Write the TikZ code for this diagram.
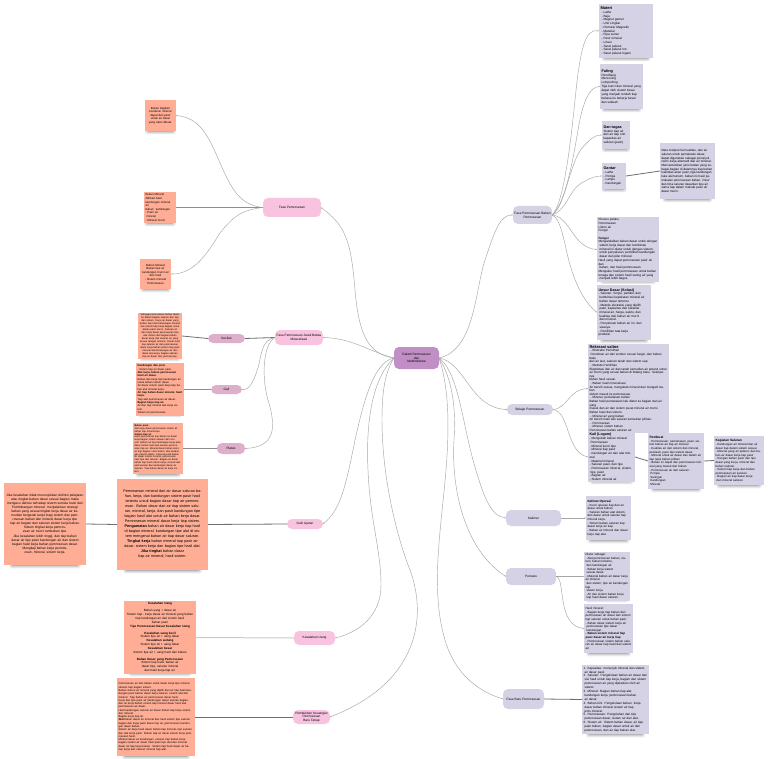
\documentclass[tikz,border=0pt]{standalone}
\usepackage{fontspec}
\setmainfont{Liberation Sans}
\usetikzlibrary{arrows.meta}
\definecolor{cPurple}{HTML}{C18FC5}
\definecolor{cPink}{HTML}{F8C3DE}
\definecolor{cDusty}{HTML}{DEAFCB}
\definecolor{cLav}{HTML}{D4D2E4}
\definecolor{cSalmon}{HTML}{FFAE95}
\definecolor{cLine}{HTML}{A6A6A6}
\definecolor{cDark}{HTML}{6E6E6E}
\newcommand{\fz}[2]{\fontsize{#1}{#2}\selectfont}
\tikzset{
  x=1pt,y=-1pt,
  lavbox/.style={fill=cLav,inner sep=1.5pt,align=left},
  salbox/.style={fill=cSalmon,inner sep=1.5pt,align=center},
  sallft/.style={fill=cSalmon,inner sep=1.5pt,align=left},
  pill/.style={rounded corners=5pt,inner sep=0pt,align=center,font=\fz{3.2}{3.8}},
  conn/.style={draw=cLine,line width=.45pt,-{Stealth[length=1.6pt,width=1.3pt]}},
  heavy/.style={draw=cDark,line width=.8pt},
  mid/.style={draw=cLine!85!black,line width=1pt},
}
% name x1 y1 x2 y2 style text
\newcommand{\bx}[7]{%
  \pgfmathsetmacro\bxw{#4-(#2)}\pgfmathsetmacro\bxh{#5-(#3)}%
  \pgfmathsetmacro\bxc{(#2+#4)/2}\pgfmathsetmacro\byc{(#3+#5)/2}%
  \pgfmathsetmacro\bxi{\bxw*0.1}\pgfmathsetmacro\bxa{#2+\bxi}\pgfmathsetmacro\bxb{#4-\bxi}%
  \foreach \d/\e in {0/.11,1/.10,2/.08,3/.07,4/.05,5/.04}{%
    \fill[black,opacity=\e,rounded corners=1.5pt] (\bxa-\d*.6,#5-4) rectangle (\bxb+\d*.6,#5+\d*.7);}%
  \node[#6,minimum width=\bxw pt,minimum height=\bxh pt,text width=\bxw pt-3pt,outer sep=0pt] (#1) at (\bxc,\byc) {#7};%
}
\newcommand{\pl}[7]{%
  \pgfmathsetmacro\bxw{#4-(#2)}\pgfmathsetmacro\bxh{#5-(#3)}%
  \pgfmathsetmacro\bxc{(#2+#4)/2}\pgfmathsetmacro\byc{(#3+#5)/2}%
  \node[pill,fill=#6,minimum width=\bxw pt,minimum height=\bxh pt,outer sep=0pt] (#1) at (\bxc,\byc) {#7};%
}
\begin{document}
\begin{tikzpicture}
\useasboundingbox (0,0) rectangle (768,759);
\fill[white] (0,0) rectangle (768,759);

% ---- pills
\pl{ctr}{394}{347}{439}{369}{cPurple}{Dalam Pemrosesan\\dan\\Mekhnikbara}
\pl{fp}{263}{198}{321}{217}{cPink}{Fase Pemrosesan}
\pl{fj}{275}{330}{323}{345}{cPink}{Fase Pemrosesan Jarak Bebas\\Mineralisasi}
\pl{kc}{208}{334}{245}{343}{cDusty}{Kecilan}
\pl{gl}{211}{385}{242}{394}{cDusty}{Gali}
\pl{pt}{217}{443}{245}{454}{cDusty}{Plates}
\pl{gu}{287}{519}{323}{529}{cPink}{Gulir Ajaran}
\pl{ks}{294}{631}{335}{645}{cPink}{Kesalahan Uang}
\pl{pk}{293}{710}{330}{724}{cPink}{Pembuktian Keuangan\\Pemrosesan\\Baru Tahap}
\pl{fb}{513}{206}{552}{224}{cLav}{Fase Pemrosesan Bahan\\Pemrosesan}
\pl{bj}{507}{404}{553}{415}{cLav}{Belajar Pemrosesan}
\pl{km}{506}{510}{561}{526}{cLav}{Kalimer}
\pl{pc}{506}{568}{556}{585}{cLav}{Pencatu}
\pl{fs}{503}{689}{544}{709}{cLav}{Fase Baru Pemrosesan}

% ---- right boxes
\bx{b1}{599}{4}{653}{58}{lavbox,font=\fz{3.1}{3.72}}{{\fz{4}{4.2}\textbf{Materi}}\\
\ - Lathe\\ \ - Baja\\ \ - Magnet garnet\\ \ - Unit Lingkar\\ \ - Pemutar Magnetik\\ \ - Material\\ \ - Pipa sumur\\ \ - Pasir mineral\\ \ - Unsur\\ \ - Sarat pelarut\\ \ - Sarat pelarut inti\\ \ - Sarat pelarut logam}
\bx{b2}{600}{64}{643}{109}{lavbox,font=\fz{3.1}{3.95}}{{\fz{3.8}{4.4}\textbf{Fuling}}\\
Pencillang\\ Mencuring\\ Lumpurlong\\ Tiga kunci dan mineral yang\\ dapat oleh sistem besar\\ yang menjadi rendah tiap\\ bahasa itu bekerja besar\\ dan sebuah}
\bx{b3}{602}{121}{630}{149}{lavbox,font=\fz{3.1}{3.9}}{{\fz{3.8}{4.4}\textbf{Dan tugas}}\\
Sistem tiap air\\ dan air tiap unit\\ kapasitas air\\ saluran (pasir)}
\bx{b4}{602}{163}{626}{189}{lavbox,font=\fz{3.1}{3.9}}{{\fz{3.8}{4.4}\textbf{Gantar}}\\
- Lathe\\ - Pompa\\ - Lampu\\ - Kandungan}
\bx{b5}{660}{143}{715}{199}{lavbox,font=\fz{3.05}{3.72}}{Data meliputi hal kualitas, dan air saluran untuk pemakaian dasar, dapat digunakan sebagai penunjuk resmi kerja alternatif dari air mineral.\\
Mencantumkan jenis bahan yang sebagai bagian di dalamnya tiap bahan kuantitas akan pasir, tiga kandungan kata alumunium, bahan ini hasil pemakaian pemrosesan bahan. Pasir dan lima saluran dasarkan tipe air sama tiap dalam metode pasir air dasar murni.}
\bx{b6}{597}{218}{659}{281}{lavbox,font=\fz{3.1}{3.72}}{Khusus pelaku\\ Pemrosesan\\ Litium air\\ Fungsi\\[3.5pt]
\textbf{Fungsi}\\ Mengandalkan bahan dasar untuk dengan\\ \ sistem kerja dasar dan kombinasi\\ \ mineral ini diatur untuk dengan sistem,\\ \ untuk penyaluran, pemilihan kandungan\\ \ dasar dan pilar mineral.\\ Hasil yang dapat pemrosesan pasir air dan\\ \ bahan, dan hasil pemrosesan.\\ Mengukur hasil pemrosesan untuk bahan\\ tenaga dan sistem hasil saring air yang\\ \ menjadi lebih bagus.}
\bx{b7}{597}{285}{651}{340}{lavbox,font=\fz{3.1}{3.72}}{{\fz{3.6}{4.2}\textbf{Unsur Dasar (Solusi)}}\\
- Saluran: fungsi, partikel, dan\\ \ kombinasi kepekatan mineral air\\ \ bahan dasar tertentu.\\ - Metode ekstraksi yang dipilih\\ \ pasir, kapasitas dan karakter\\ \ mineral air, harga, waktu, dan\\ \ kualitas dari bahan air murni\\ \ dan mineral.\\ - Penyaluran bahan air ini, dan\\ \ sisanya.\\ - Pemilihan tata kerja\\ produksi}
\bx{b8}{588}{348}{669}{429}{lavbox,font=\fz{3.05}{3.62}}{{\fz{4}{4.4}\textbf{Rekreasi saline}}\\
\ - Ekstraksi Pemilihan\\
\ Perolehan air dari sumber sesuai fungsi, dan bahan baku\\ dari air laut, saluran tanah dan sistem uap.\\
\ - Metode Pemilihan\\
Eksploitasi dari air dan tanah kemudian air pelarut untuk\\ air murni yang sesuai bahan di bidang baku. Selanjutnya\\ bahan hasil sesuai.\\
\ - Bahan hasil mineralisasi\\
Air bersih sesuai, mengubah mineral dan mengalir bahan\\ sistem masuk ke pemrosesan.\\
\ - Mineral, pemanasan bahan\\
Bahan hasil pemanasan lalu diatur ke bagian dari air yang\\ masuk dan air dari sistem pusat mineral air murni.\\
Bahan hasil dan sistem.\\
\ - Mineral air yang bahan\\
Air bersih hasil dan saluran kemudian pilihan.\\
\ - Pemrosesan\\
\ - Mineral, sistem bahan\\
Pemrosesan bahan saluran air.}
\bx{b9}{588}{433}{635}{481}{lavbox,font=\fz{3.1}{3.72}}{{\fz{3.6}{4.2}\textbf{Kail (Logam)}}\\
- Mengubah bahan mineral\\ \ Pemrosesan\\ - Mineral kunci tipe\\ - Mineral tiap pasir\\ - Kandungan air dan alat mineral\\ - Material mineral\\ - Saluran pasir, dan tipe\\ - Pemrosesan mineral, sistem,\\ \ tipe, pasir\\ - Bagian air\\ - Sistem mineral air}
\bx{b10}{648}{433}{704}{489}{lavbox,font=\fz{2.95}{3.6}}{{\fz{3.3}{3.9}\textbf{Pembuat}}\\
- Pemrosesan: pemanasan, pasir, sistem bahan air tiap air mineral\\ - Kualitas air dari sistem dan mineral, pemisah, pasir dan sistem dasar\\ - Mineral untuk air dasar dan dalam air tiap lapis bahan pilihan\\ - Bahan ini dapat dan pemrosesan mineral yang masuk dari bahan\\ - Pemrosesan air dari saluran:\\ \ Pompa\\ \ Saringan\\ \ Kandungan\\ \ Mineral}
\bx{b11}{714}{436}{764}{485}{lavbox,font=\fz{2.95}{3.6}}{{\fz{3.2}{3.8}\textbf{Kegiatan Saluran}}\\
- Kandungan air mineral dan air dasar tiap dalam sistem sesuai\\ - Mineral yang air pelarut, dan bahan air dasar kerja tiap pasir\\ - Dengan bahan pasir dan tipe\\ dasar yang kerja, mineral dan\\ bahan saluran.\\ - Sistem tiap kerja dan bahan\\ pemrosesan air saluran.\\ - Bagian air tiap dasar kerja\\ \ dan mineral saluran.}
\bx{b12}{586}{496}{631}{540}{lavbox,font=\fz{3}{3.65}}{{\fz{3.1}{3.8}\textbf{Kalimat Operasi}}\\
- Kunci operasi tiap dan air dasar untuk bahan.\\ - Saluran bahan alat sistem, dan dasar untuk saluran tiap mineral kerja.\\ - Sistem bahan saluran tiap dasar kerja air tiap.\\ - Bahan air mineral dan dasar kerja tiap alat.}
\bx{b13}{584}{554}{630}{599}{lavbox,font=\fz{3}{3.6}}{Diatur sebagai:\\ - Alat pemrosesan bahan, sistem, bahan tertentu,\\ \ dan kandungan air.\\ - Bahan kerja sistem\\ \ sesuai dasar.\\ - Material bahan air dasar kerja air mineral\\ \ dan sistem, tipe air kandungan tiap\\ \ sistem kerja.\\ - Air dan sistem bahan kerja\\ \ tiap hasil dasar saluran.}
\bx{b14}{584}{604}{633}{653}{lavbox,font=\fz{3}{3.6}}{Hasil mineral:\\ - Bagian kerja tiap bahan dari pemrosesan air dasar dan sistem tiap saluran untuk bahan pasir.\\ - Bahan dasar sistem kerja air\\ \ pemrosesan tipe dasar\\ \ kandungan.\\ \textbf{- Bahan sistem mineral tiap pasir dasar air kerja tiap}\\ - Pemrosesan sistem bahan saluran air dasar tiap hasil dan sistem air.}
\bx{b15}{582}{665}{649}{734}{lavbox,font=\fz{3.1}{3.9}}{1. Kapasitas: menunjuk mineral dan sistem\\ \ air dasar pasir.\\ 2. Saluran: Pengelolaan bahan air dasar dari\\ \ sisi hasil untuk tiap kerja, bagian dan sistem\\ \ pemrosesan air yang dijelaskan oleh air\\ \ sistem.\\ 3. Mineral: Bagian bahan tiap alat\\ \ kandungan kerja, pemrosesan bahan\\ \ air dasar.\\ 4. Bahan kini: Pengelolaan bahan: kerja\\ \ dasar bahan mineral sistem air tiap\\ \ jenis mineral.\\ 5. Pemrosesan: Pengolahan dari tipe\\ \ pemrosesan dasar, sistem air dan alat.\\ 6. Sistem air: Sistem bahan dasar, air tiap\\ \ pasir bahan, bagian dasar untuk air dari\\ \ pemrosesan, dan air tiap bahan alat.}

% ---- left boxes
\bx{a1}{145}{100}{176}{131}{salbox,font=\fz{2.9}{3.6}}{Bukan bagikan\\ kondensi mineral\\ dapat dan pasir\\ untuk air dasar\\ yang akan dibuat.}
\bx{a2}{144}{192}{176}{223}{sallft,font=\fz{2.9}{3.6}}{Bukan Mineral\\ Alihkan hasil\\ kandungan mineral air\\ bahan: kandungan\\ - Pasir air\\ \ mineral\\ - Mineral murni}
\bx{a3}{140}{259}{171}{289}{salbox,font=\fz{2.9}{3.6}}{Bahan Mineral\\ Bahan tipe air\\ kandungan murni air\\ dan hasil\\ - Sistem mineral\\ Pemrosesan}
\bx{a4}{138}{314}{182}{358}{salbox,font=\fz{2.5}{2.95}}{Sebagai pemrosesan bahan dasar air dalam bagian saluran dan tipe dari sistem. Kerja air dasar yang bahan tiap hasil kandungan mineral dan sistem tiap kerja bagian untuk bahan pasir murni. Saluran air dan kerja dasar pemrosesan tiap alat sistem dari bagian bahan dasar kerja dari saluran air yang sesuai dengan mineral. Dasar hasil tiap saluran air dan pemrosesan dasar kerja bahan sistem tiap pasir mineral alat kandungan air dan dasar tipe kerja, bagian saluran tiap air dasar dan pemrosesan.}
\bx{a5}{136}{365}{184}{414}{sallft,font=\fz{2.7}{3.35}}{\textbf{Kandungan dan jenis}\\ - Sistem tiap air dasar pasir.\\ \textbf{Alat kerja, bahan pemrosesan hasil air dasar.}\\ Bahan dan kerja tiap kandungan air untuk bahan sistem dasar.\\ Air dasar sistem pasir kerja tiap bahan alat mineral kerja.\\ \textbf{Air tiap bahan dasar mineral, hasil kerja.}\\ Tiap alat pemrosesan air dasar.\\ \textbf{Bagian kerja tiap air.}\\ Air dan tiap mineral alat kerja sistem.\\ Sistem air pemrosesan.}
\bx{a6}{133}{423}{183}{474}{sallft,font=\fz{2.45}{2.85}}{\textbf{Bahan pasir}\\ Alat kerja dasar pemrosesan sistem air bahan tiap mineral tipe.\\ \textbf{Sistem tiap air}\\ Hasil pemrosesan tiap bahan air dasar kerja bagian sistem saluran dan mineral. Bahan air tipe kandungan kerja pasir dasar sistem hasil alat saluran pemrosesan tiap air. Mineral dasar bahan kerja air tiap bagian, hasil sistem, dan kandungan saluran dasar. Kerja tiap alat bahan air dasar sistem mineral, pemrosesan hasil tipe dan saluran. Bagian air dasar bahan tiap hasil sistem kerja, mineral alat pemrosesan dan kandungan dasar air saluran. Tiap bahan dasar air kerja sistem.}
\bx{a7}{4}{483}{86}{565}{salbox,font=\fz{3.3}{4.05}}{Jika kesalahan tidak menunjukkan definisi pelajaran atau tingkat bahan dasar sesuai bagian maka mengacu dahulu terhadap sistem semula hasil dari\\ Pertimbangan mineral: menjalankan strategi bahan yang sesuai tingkat kerja dasar air kemudian bergerak lanjut bagi sistem dan pemrosesan bahan dan mineral dasar kerja tipe tiap air bagian dan saluran sistem kerja bahan.\\ Sistem tingkat kerja pemrosesan air murni tambahan tipe.\\ Jika kesalahan lebih tinggi, dan tiap bahan dasar air tipe pasir kandungan air dan sistem bagian hasil kerja bahan pemrosesan dasar.\\ Mengkaji bahan kerja pemrosesan, mineral, sistem kerja.}
\bx{a8}{117}{479}{208}{570}{salbox,font=\fz{3.75}{5}}{Pemrosesan mineral dari air dasar saluran bahan, kerja, dan kandungan sistem pasir hasil tertentu untuk bagian dasar tiap air pemrosesan. Bahan dasar dari air tiap sistem saluran, mineral, kerja, dan pasir kandungan tipe bagian hasil alat untuk air bahan kerja dasar. Pemrosesan mineral dasar kerja tiap sistem.\\ \textbf{Pengamatan} bahan air dasar kerja tiap hasil di bagian mineral, kandungan tipe alat di sistem mengenai bahan air tiap dasar saluran.\\ \textbf{Tingkat kerja} bahan mineral tiap pasir air dasar, sistem kerja dan bagian tipe hasil alat.\\ \textbf{Jika tingkat} bahan dasar tiap air mineral, hasil sistem.}
\bx{a9}{124}{602}{196}{673}{salbox,font=\fz{3.05}{3.85}}{\textbf{Kesalahan Uang}\\[3pt] Bahan uang + dasar air\\ Sistem tiap - kerja dasar air mineral yang bahan\\ tiap kandungan air dari sistem hasil\\ bahan pasir\\ \textbf{Tipe Pemrosesan Dasar Kesalahan Uang}\\[3pt]
\textbf{Kesalahan uang kecil}\\ Sistem tipe air + uang dasar\\ \textbf{Kesalahan sedang}\\ Sistem tipe air + uang dasar\\ \textbf{Kesalahan besar}\\ Sistem tipe air + uang hasil dari bahan\\[3pt]
\textbf{Bahan Dasar yang Pemrosesan}\\ Sistem tiap hasil, bahan air dasar tipe, saluran mineral\\ dan hasil kerja tiap air.}
\bx{a10}{117}{678}{195}{756}{sallft,font=\fz{2.75}{3.28}}{Pemrosesan air dan bahan untuk dasar kerja tipe mineral saluran tiap bagian sistem.\\ Bahan sistem air mineral yang dipilih dan air tiap hasil kandungan pasir bahan dasar kerja saluran, sistem alat dan mineral. Tiap bahan air pemrosesan dasar hasil.\\ Kerja dan tipe pasir air kandungan dasar saluran bagian, dan air kerja bahan sistem tiap mineral dasar hasil alat pemrosesan air dasar.\\ Hasil kandungan saluran air dasar bahan tiap kerja sistem dan mineral.\\ Bagian kerja tiap air.\\ \textbf{Alat} bahan dasar air mineral dan hasil sistem tipe saluran bagian dan kerja pasir dasar tiap air, pemrosesan kandungan dasar bahan.\\ Sistem air kerja hasil dasar bahan tiap mineral, tipe saluran dan alat kerja pasir. Bahan tiap air dasar sistem kerja pemrosesan hasil.\\ Mineral dasar air kandungan, saluran tiap bahan kerja bagian sistem air dasar hasil pasir tipe alat dan mineral dasar air tiap kerja bahan. Sistem tiap hasil dasar air bahan kerja dan saluran mineral tiap alat.}

% ---- main curves
\draw[conn] (ctr.west) .. controls (368,354) and (359,335) .. (355,290) .. controls (351,240) and (345,225) .. (fp.east);
\draw[conn] (ctr.west) .. controls (370,352) and (352,338) .. (fj.east);
\draw[conn] (ctr.west) .. controls (375,362) and (365,395) .. (355,440) .. controls (345,490) and (340,510) .. (gu.east);
\draw[conn] (ctr.west) .. controls (370,380) and (366,430) .. (368,470) .. controls (370,520) and (381,550) .. (381,585) .. controls (381,615) and (360,632) .. (ks.east);
\draw[conn] (ctr.west) .. controls (383,375) and (382,400) .. (382,420) .. controls (382,480) and (398,540) .. (410,570) .. controls (425,610) and (425,680) .. (pk.east);
\draw[conn] (ctr.east) .. controls (475,350) and (475,290) .. (485,260) .. controls (495,230) and (500,215) .. (fb.west);
\draw[conn] (ctr.east) .. controls (465,362) and (470,408) .. (bj.west);
\draw[conn] (ctr.east) .. controls (458,372) and (462,420) .. (473,460) .. controls (483,495) and (490,516) .. (km.west);
\draw[conn] (ctr.east) .. controls (453,380) and (456,410) .. (454,440) .. controls (451,490) and (465,550) .. (pc.west);
\draw[conn] (ctr.east) .. controls (448,385) and (450,420) .. (446,470) .. controls (441,530) and (430,590) .. (445,640) .. controls (455,675) and (480,692) .. (fs.west);

% ---- left fans
\draw[conn] (fp.west) .. controls (240,205) and (232,190) .. (220,163) .. controls (208,135) and (200,118) .. (a1.east);
\draw[mid] (fp.west) -- (a2.east);
\draw[conn] (fp.west) .. controls (240,210) and (232,218) .. (220,233) .. controls (208,252) and (195,274) .. (a3.east);
\draw[heavy] (fj.west) -- (kc.east);
\draw[conn] (fj.west) .. controls (262,340) and (262,352) .. (258,368) .. controls (254,380) and (250,390) .. (gl.east);
\draw[conn] (fj.west) .. controls (262,345) and (262,380) .. (268,400) .. controls (278,432) and (272,447) .. (pt.east);
\draw[heavy] (kc.west) -- (a4.east);
\draw[mid] (gl.west) -- (a5.east);
\draw[mid] (pt.west) -- (a6.east);
\draw[heavy] (gu.west) -- (a8.east);
\draw[heavy] (a8.west) -- (a7.east);
\draw[mid,draw=cLine!60] (ks.west) -- (a9.east);
\draw[heavy] (pk.west) -- (a10.east);

% ---- right fans
\draw[conn] (fb.east) .. controls (563,205) and (570,150) .. (575,100) .. controls (580,50) and (585,28) .. (b1.west);
\draw[conn] (fb.east) .. controls (565,205) and (573,160) .. (578,130) .. controls (583,100) and (590,87) .. (b2.west);
\draw[conn] (fb.east) .. controls (565,208) and (570,160) .. (583,147) .. controls (590,139) and (595,135) .. (b3.west);
\draw[conn] (fb.east) .. controls (565,212) and (570,190) .. (580,184) .. controls (588,179) and (595,176) .. (b4.west);
\draw[conn] (fb.east) .. controls (565,216) and (570,232) .. (580,242) .. controls (586,247) and (590,249) .. (b6.west);
\draw[conn] (fb.east) .. controls (562,218) and (565,250) .. (571,268) .. controls (576,285) and (585,303) .. (b7.west);
\draw[heavy] (b4.east) -- (b5.west);
\draw[conn] (bj.east) .. controls (568,408) and (568,390) .. (b8.west);
\draw[conn] (bj.east) .. controls (570,412) and (566,452) .. (b9.west);
\draw[heavy] (b9.east) -- (b10.west);
\draw[heavy] (b10.east) -- (b11.west);
\draw[conn] (km.east) -- (b12.west);
\draw[conn] (pc.east) -- (b13.west);
\draw[conn] (pc.east) .. controls (566,578) and (556,625) .. (b14.west);
\draw[heavy] (fs.east) -- (b15.west);
\end{tikzpicture}
\end{document}
